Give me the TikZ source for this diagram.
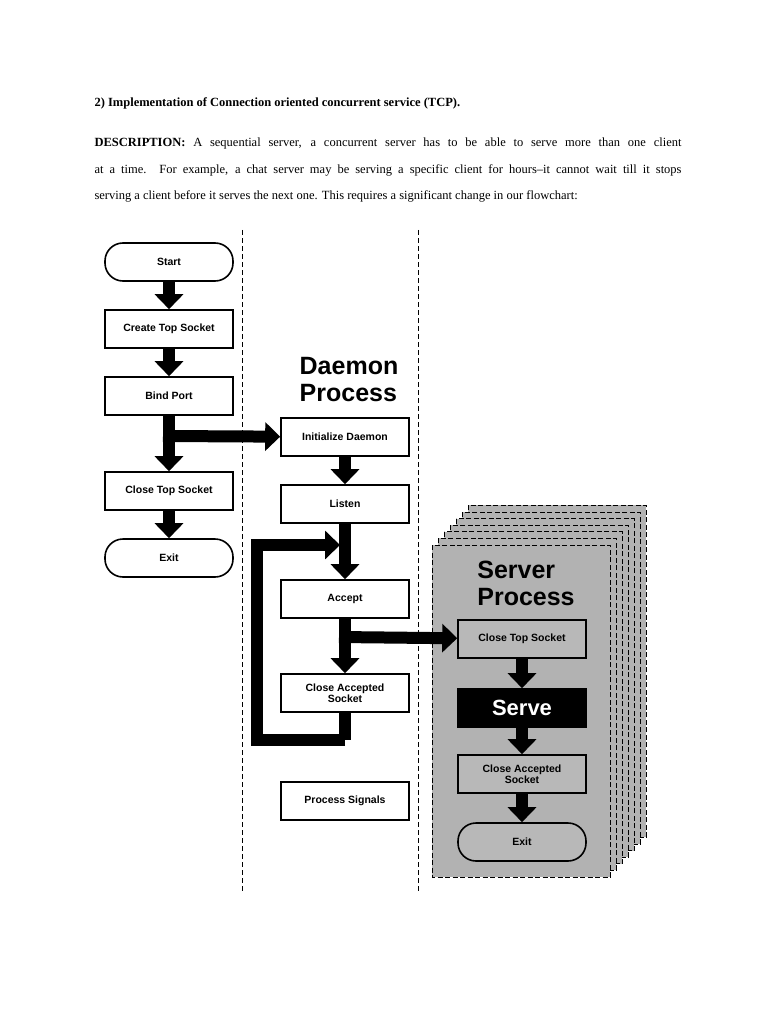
\documentclass[tikz,border=0pt]{standalone}
\usepackage{fontspec}
\setmainfont{Liberation Serif}
\newfontfamily\diag{Liberation Sans}
\usetikzlibrary{arrows.meta}
\begin{document}
\begin{tikzpicture}[x=1pt,y=-1pt,
  box/.style={draw,line width=1.6pt,fill=white,minimum width=128pt,minimum height=38pt,
    font=\diag\bfseries\fontsize{10.5}{11}\selectfont,align=center,inner sep=1pt},
  pill/.style={box,rounded corners=18pt},
  gbox/.style={box,fill=black!28},
  big/.style={font=\diag\bfseries\fontsize{25}{27}\selectfont,align=left},
  flow/.style={line width=12pt,-{Triangle[length=15pt,width=28pt]},line join=miter},
  pipe/.style={line width=12pt,line join=miter},
  lane/.style={dashed,line width=0.8pt,dash pattern=on 5pt off 3pt},
  stack/.style={draw,dashed,line width=1pt,fill=black!30,dash pattern=on 5pt off 2.5pt}]
\useasboundingbox (0,0) rectangle (768,1024);
% header text
\node[anchor=west,font=\bfseries\fontsize{12.5}{14}\selectfont] (h) at (91,103)
  {2) Implementation of Connection oriented concurrent service (TCP).};
\node[anchor=west,font=\fontsize{12.5}{14}\selectfont] (l1) at (91,143)
  {\hbox to 587pt{\textbf{DESCRIPTION:} A sequential server, a concurrent server has to be able to serve more than one client}};
\node[anchor=west,font=\fontsize{12.5}{14}\selectfont] (l2) at (91,170)
  {\hbox to 587pt{at a time. For example, a chat server may be serving a specific client for hours--it cannot wait till it stops}};
\node[anchor=west,font=\fontsize{12.5}{14}\selectfont] (l3) at (91,196)
  {serving a client before it serves the next one. This requires a significant change in our flowchart:};
% lanes
\coordinate (d1a) at (242,230); \coordinate (d1b) at (242,893);
\coordinate (d2a) at (418,230); \coordinate (d2b) at (418,893);
\draw[lane] (d1a) -- (d1b);
\draw[lane] (d2a) -- (d2b);
% server process stack
\foreach \i in {6,5,...,0}
  \draw[stack] (432+6*\i,545-6.6*\i) rectangle ++(178,332);
% left column
\node[pill] (start) at (169,262) {Start};
\node[box] (cts) at (169,329) {Create Top Socket};
\node[box] (bind) at (169,396) {Bind Port};
\node[box] (close) at (169,491) {Close Top Socket};
\node[pill] (exit) at (169,558) {Exit};
% daemon column
\node[big] (dp) at (349,380) {Daemon\\Process};
\node[box] (init) at (345,437) {Initialize Daemon};
\node[box] (listen) at (345,504) {Listen};
\node[box] (accept) at (345,599) {Accept};
\node[box] (cas) at (345,693) {Close Accepted\\Socket};
\node[box] (sig) at (345,801) {Process Signals};
% server column
\node[big] (sp) at (526,583) {Server\\Process};
\node[gbox] (scts) at (522,639) {Close Top Socket};
\node[box,fill=black,text=white,font=\diag\bfseries\fontsize{22}{24}\selectfont] (serve) at (522,708) {Serve};
\node[gbox] (scas) at (522,774) {Close Accepted\\Socket};
\node[pill,fill=black!28] (sexit) at (522,842) {Exit};
% arrows
\draw[flow] (start) -- (cts);
\draw[flow] (cts) -- (bind);
\draw[flow] (bind) -- (close);
\draw[flow] (close) -- (exit);
\coordinate (b1) at (163,436);
\draw[flow] (b1) -- (init);
\draw[flow] (init) -- (listen);
\draw[flow] (listen) -- (accept);
\draw[flow] (accept) -- (cas);
\coordinate (b2) at (339,637);
\draw[flow] (b2) -- (scts);
\coordinate (l0) at (345,740);
\coordinate (lc1) at (257,740);
\coordinate (lc2) at (257,545);
\coordinate (lend) at (340,545);
\draw[pipe] (cas.south) -- (l0);
\draw[flow] ([yshift=0pt]l0) -- (lc1) -- (lc2) -- (lend);
\draw[flow] (scts) -- (serve);
\draw[flow] (serve) -- (scas);
\draw[flow] (scas) -- (sexit);
\end{tikzpicture}
\end{document}
